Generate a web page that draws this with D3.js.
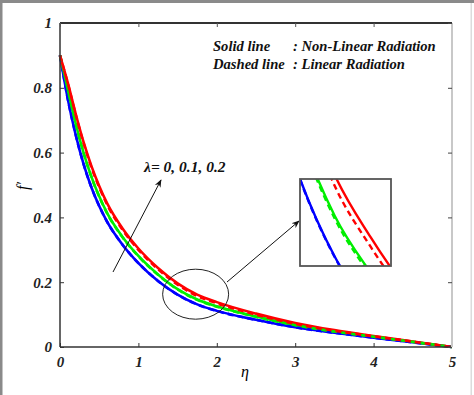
<!DOCTYPE html>
<html><head><meta charset="utf-8">
<script src="https://cdn.jsdelivr.net/npm/d3@7"></script>
<style>body{margin:0;background:#fff}svg{display:block}</style>
</head><body>
<svg id="c" width="474" height="395"></svg>
<script>
const eta = [0, 0.1, 0.2, 0.3, 0.4, 0.5, 0.6, 0.8, 1.0, 1.25, 1.5, 1.75, 2, 2.5, 3, 3.5, 4, 4.5, 5];
const blueSolid  = [0.9, 0.765, 0.655, 0.565, 0.493, 0.435, 0.387, 0.315, 0.259, 0.204, 0.1615, 0.1315, 0.1115, 0.084, 0.061, 0.044, 0.029, 0.0145, 0];
const greenSolid = [0.9, 0.795, 0.690, 0.600, 0.526, 0.465, 0.414, 0.339, 0.281, 0.224, 0.1785, 0.1465, 0.1255, 0.094, 0.068, 0.048, 0.032, 0.016, 0];
const redSolid   = [0.9, 0.815, 0.720, 0.633, 0.559, 0.497, 0.444, 0.365, 0.304, 0.244, 0.1965, 0.1615, 0.1385, 0.103, 0.074, 0.052, 0.034, 0.017, 0];
const blueDash   = [0.9, 0.765, 0.655, 0.565, 0.493, 0.435, 0.387, 0.315, 0.259, 0.204, 0.1613, 0.1313, 0.1113, 0.0838, 0.0608, 0.0439, 0.0289, 0.0144, 0];
const greenDash  = [0.9, 0.794, 0.689, 0.599, 0.525, 0.464, 0.413, 0.338, 0.280, 0.223, 0.1775, 0.1455, 0.1245, 0.0932, 0.0674, 0.0476, 0.0318, 0.0159, 0];
const redDash    = [0.9, 0.813, 0.717, 0.630, 0.555, 0.493, 0.440, 0.361, 0.300, 0.240, 0.1925, 0.1575, 0.1350, 0.1000, 0.0715, 0.0502, 0.0330, 0.0165, 0];
const xTicks = [0, 1, 2, 3, 4, 5];
const yTicks = [0, 0.2, 0.4, 0.6, 0.8, 1];
const yTickLabels = ["0", "0.2", "0.4", "0.6", "0.8", "1"];
const legendKeys = ["Solid line", "Dashed line"];
const legendVals = [": Non-Linear Radiation", ": Linear Radiation"];
const lambdaLabel = "λ= 0, 0.1, 0.2";
const insetXDomain = [1.51, 2.14];
const insetYDomain = [0.128, 0.16];
const ellipseCenter = [1.73, 0.163];

const series = [
  {v: blueSolid, c: "#0000ff", d: null},
  {v: greenSolid, c: "#00ee00", d: null},
  {v: redSolid, c: "#ff0000", d: null},
  {v: blueDash, c: "#0000ff", d: "6,4"},
  {v: greenDash, c: "#00ee00", d: "6,4"},
  {v: redDash, c: "#ff0000", d: "6,4"}
];

const svg = d3.select("#c");
const font = "'Liberation Serif', 'Times New Roman', serif";
const L = 60, R = 452, T = 23, B = 347;
const x = d3.scaleLinear().domain([0, 5]).range([L, R]);
const y = d3.scaleLinear().domain([0, 1]).range([B, T]);

// outer frame
svg.append("rect").attr("x", 0).attr("y", 0).attr("width", 474).attr("height", 3).attr("fill", "#8a8a8a");
svg.append("rect").attr("x", 0).attr("y", 0).attr("width", 2.5).attr("height", 395).attr("fill", "#8a8a8a");
svg.append("rect").attr("x", 470.5).attr("y", 3).attr("width", 1.5).attr("height", 392).attr("fill", "#dcdcdc");

// curves
const line = d3.line().x((d, i) => x(eta[i])).y(d => y(d)).curve(d3.curveMonotoneX);
const gCurves = svg.append("g");
series.forEach(s => {
  gCurves.append("path").attr("d", line(s.v)).attr("fill", "none")
    .attr("stroke", s.c).attr("stroke-width", 2.6).attr("stroke-dasharray", s.d);
});

const tickStyle = sel => sel.style("font-family", font).style("font-size", "15px").style("font-weight", "bold").style("font-style", "italic").attr("fill", "#222");

// axes
const xAxis = d3.axisBottom(x).tickValues(xTicks).tickSize(4).tickFormat(d3.format("d"));
const gx = svg.append("g").attr("transform", `translate(0,${B})`).call(xAxis);
gx.selectAll(".tick line").attr("y2", -4).attr("stroke", "#333");
gx.select(".domain").attr("stroke", "#333").attr("stroke-width", 1.5).attr("d", `M${L},0H${R}`);
gx.selectAll(".tick text").attr("y", 9).attr("dy", "0.71em").call(tickStyle);

const yAxis = d3.axisLeft(y).tickValues(yTicks).tickSize(4).tickFormat((d, i) => yTickLabels[i]);
const gy = svg.append("g").attr("transform", `translate(${L},0)`).call(yAxis);
gy.selectAll(".tick line").attr("x2", 4).attr("stroke", "#333");
gy.select(".domain").attr("stroke", "#333").attr("stroke-width", 1.5).attr("d", `M0,${B}V${T}`);
gy.selectAll(".tick text").attr("x", -8).call(tickStyle);

// top & right axes
const gt = svg.append("g").attr("transform", `translate(0,${T})`).call(d3.axisTop(x).tickValues(xTicks).tickSize(4).tickFormat(""));
gt.selectAll(".tick line").attr("y2", 4).attr("stroke", "#555");
gt.select(".domain").attr("stroke", "#333").attr("stroke-width", 2).attr("d", `M${L},0H${R}`);
const gr = svg.append("g").attr("transform", `translate(${R},0)`).call(d3.axisRight(y).tickValues(yTicks).tickSize(4).tickFormat(""));
gr.selectAll(".tick line").attr("x2", -4).attr("stroke", "#444");
gr.select(".domain").attr("stroke", "#c8c8c8").attr("stroke-width", 2).attr("d", `M0,${B}V${T}`);

// axis titles
svg.append("text").attr("x", 245).attr("y", 377).attr("text-anchor", "middle")
  .style("font-family", font).style("font-size", "16px").style("font-style", "italic").text("η");
svg.append("text").attr("transform", "translate(28,186) rotate(-90)").attr("text-anchor", "middle")
  .style("font-family", font).style("font-size", "16px").style("font-style", "italic").text("f′");

// legend text
const tstyle = (sel, fs) => sel.style("font-family", font).style("font-size", fs).style("font-weight", "bold").style("font-style", "italic").attr("fill", "#111");
legendKeys.forEach((k, i) => {
  svg.append("text").attr("x", 213).attr("y", 51 + i * 18).text(k).call(tstyle, "14.6px");
  svg.append("text").attr("x", 293).attr("y", 51 + i * 18).text(legendVals[i]).call(tstyle, "14.6px");
});
svg.append("text").attr("x", 144).attr("y", 172).text(lambdaLabel).call(tstyle, "15.5px");

// arrows
const defs = svg.append("defs");
defs.append("marker").attr("id", "ah").attr("viewBox", "0 0 10 10").attr("refX", 9).attr("refY", 5)
  .attr("markerWidth", 8).attr("markerHeight", 8).attr("orient", "auto")
  .append("path").attr("d", "M0,1 L10,5 L0,9 L3,5 Z").attr("fill", "#111");
svg.append("line").attr("x1", 113).attr("y1", 272).attr("x2", 161).attr("y2", 180)
  .attr("stroke", "#111").attr("stroke-width", 1).attr("marker-end", "url(#ah)");

// ellipse
const ex = x(ellipseCenter[0]), ey = y(ellipseCenter[1]);
svg.append("ellipse").attr("cx", ex).attr("cy", ey).attr("rx", 33).attr("ry", 25)
  .attr("fill", "none").attr("stroke", "#222").attr("stroke-width", 1);
svg.append("line").attr("x1", 227).attr("y1", 282).attr("x2", 299).attr("y2", 221)
  .attr("stroke", "#111").attr("stroke-width", 1).attr("marker-end", "url(#ah)");

// inset
const IL = 300, IR = 391, IT = 179, IB = 266;
const xi = d3.scaleLinear().domain(insetXDomain).range([IL, IR]);
const yi = d3.scaleLinear().domain(insetYDomain).range([IB, IT]);
defs.append("clipPath").attr("id", "ic").append("rect").attr("x", IL).attr("y", IT).attr("width", IR - IL).attr("height", IB - IT);
svg.append("rect").attr("x", IL).attr("y", IT).attr("width", IR - IL).attr("height", IB - IT).attr("fill", "#fff");
const lineI = d3.line().x((d, i) => xi(eta[i])).y(d => yi(d)).curve(d3.curveMonotoneX);
const gi = svg.append("g").attr("clip-path", "url(#ic)");
series.forEach(s => {
  gi.append("path").attr("d", lineI(s.v)).attr("fill", "none")
    .attr("stroke", s.c).attr("stroke-width", 2.4).attr("stroke-dasharray", s.d);
});
svg.append("rect").attr("x", IL).attr("y", IT).attr("width", IR - IL).attr("height", IB - IT)
  .attr("fill", "none").attr("stroke", "#555").attr("stroke-width", 1.8);
</script>
</body></html>
